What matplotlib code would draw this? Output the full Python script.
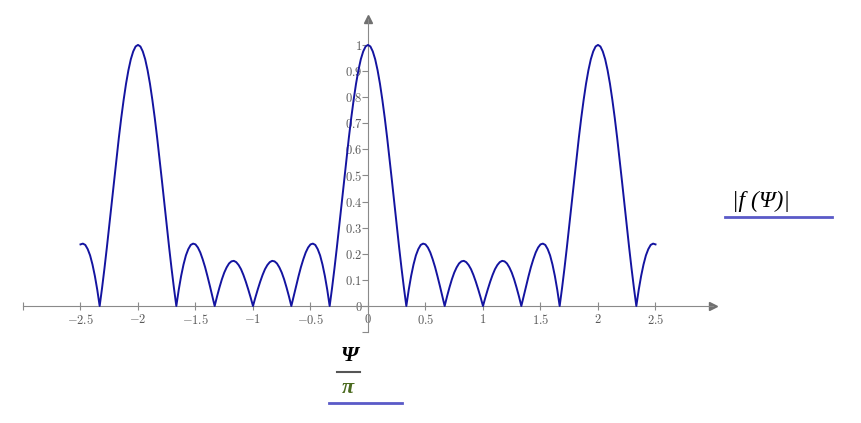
import matplotlib.pyplot as plt
import numpy as np

# |f(Psi)|, Psi/pi from 0 to 2.5 in steps of 1/48
af_pos = [1.0, 0.994, 0.975, 0.945, 0.903, 0.851, 0.789, 0.720, 0.644, 0.563,
          0.479, 0.393, 0.308, 0.224, 0.144, 0.069, 0.0,
          0.062, 0.115, 0.159, 0.194, 0.218, 0.234, 0.239, 0.236, 0.224,
          0.205, 0.179, 0.149, 0.114, 0.077, 0.038, 0.0,
          0.037, 0.071, 0.102, 0.128, 0.148, 0.163, 0.171, 0.173, 0.168,
          0.157, 0.141, 0.119, 0.093, 0.064, 0.033, 0.0,
          0.033, 0.064, 0.093, 0.119, 0.141, 0.157, 0.168, 0.173, 0.171,
          0.163, 0.148, 0.128, 0.102, 0.071, 0.037, 0.0,
          0.038, 0.077, 0.114, 0.149, 0.179, 0.205, 0.224, 0.236, 0.239,
          0.234, 0.218, 0.194, 0.159, 0.115, 0.062, 0.0,
          0.069, 0.144, 0.224, 0.308, 0.393, 0.479, 0.563, 0.644, 0.720,
          0.789, 0.851, 0.903, 0.945, 0.975, 0.994, 1.0,
          0.994, 0.975, 0.945, 0.903, 0.851, 0.789, 0.720, 0.644, 0.563,
          0.479, 0.393, 0.308, 0.224, 0.144, 0.069, 0.0,
          0.062, 0.115, 0.159, 0.194, 0.218, 0.234, 0.239, 0.236]
# the curve is symmetric about 0
af = af_pos[:0:-1] + af_pos
psi_pi = np.linspace(-2.5, 2.5, len(af))

xticks = [-3, -2.5, -2, -1.5, -1, -0.5, 0, 0.5, 1, 1.5, 2, 2.5]
xlabels = ["", "-2.5", "-2", "-1.5", "-1", "-0.5", "0", "0.5", "1", "1.5", "2", "2.5"]
yticks = [-0.1, 0, 0.1, 0.2, 0.3, 0.4, 0.5, 0.6, 0.7, 0.8, 0.9, 1.0]
ylabels = ["", "0", "0.1", "0.2", "0.3", "0.4", "0.5", "0.6", "0.7", "0.8", "0.9", "1"]

plt.rcParams['mathtext.fontset'] = 'cm'
gray = '#8a8a8a'
txt = '#5a5a5a'

fig = plt.figure(figsize=(8.61, 4.23), dpi=100)
ax = fig.add_axes([0, 0, 1, 1])
ax.patch.set_visible(False)
ax.set_xlim(-3.2, 4.287)
ax.set_ylim(-0.448, 1.172)

ax.plot(psi_pi, af, color='#1414a0', lw=1.4, zorder=3)

# axes through the origin, Mathcad style
for s in ['top', 'right']:
    ax.spines[s].set_visible(False)
ax.spines['left'].set_position(('data', 0))
ax.spines['bottom'].set_position(('data', 0))
ax.spines['bottom'].set_bounds(-3, 3.0)
ax.spines['left'].set_bounds(-0.1, 1.1)
ax.spines['left'].set_color(gray)
ax.spines['bottom'].set_color(gray)
ax.plot([3.0], [0], marker='>', color='#707070', ms=6, clip_on=False)
ax.plot([0], [1.1], marker='^', color='#707070', ms=6, clip_on=False)

ax.set_xticks(xticks, ['$' + l + '$' if l else '' for l in xlabels])
ax.set_yticks(yticks, ['$' + l + '$' if l else '' for l in ylabels])
ax.tick_params(axis='x', direction='inout', length=6, color=gray, labelcolor=txt,
               labelsize=9, pad=2)
ax.tick_params(axis='y', direction='out', length=4, color=gray, labelcolor=txt,
               labelsize=9, pad=0)

# legend-like label on the right
fig.text(761 / 861, 1 - 201 / 423, '|f (Ψ)|', fontsize=17, family='Liberation Serif',
         style='italic', ha='center', va='center', color='black')
fig.add_artist(plt.Line2D([725 / 861, 832 / 861], [1 - 217 / 423] * 2,
                          color='#5a5ac8', lw=2))

# x label: Psi over pi
fig.text(349 / 861, 1 - 356 / 423, 'Ψ', fontsize=16, family='Liberation Serif',
         style='italic', fontweight='bold', ha='center', va='center', color='black')
fig.add_artist(plt.Line2D([337 / 861, 360 / 861], [1 - 372 / 423] * 2,
                          color='#555555', lw=1.5))
fig.text(348 / 861, 1 - 388 / 423, 'π', fontsize=16, family='Liberation Serif',
         style='italic', fontweight='bold', ha='center', va='center', color='#4a6a1e')
fig.add_artist(plt.Line2D([329 / 861, 402 / 861], [1 - 403 / 423] * 2,
                          color='#5a5ac8', lw=2))

fig.savefig('out.png', dpi=100)
